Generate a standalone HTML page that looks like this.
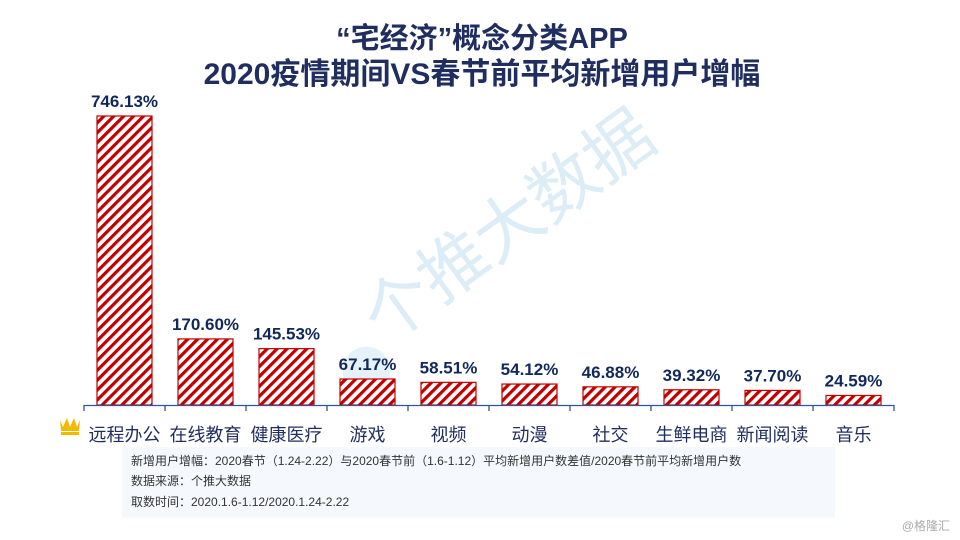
<!DOCTYPE html>
<html><head><meta charset="utf-8">
<style>
body{margin:0;width:960px;height:540px;background:#fff;overflow:hidden;font-family:"Liberation Sans","Noto Sans CJK SC",sans-serif}
svg{display:block}
</style></head>
<body>
<svg id="chart" width="960" height="540">
<defs>
<pattern id="hatch" patternUnits="userSpaceOnUse" width="7" height="7" patternTransform="rotate(45)">
<rect width="7" height="7" fill="#fff"/>
<rect width="3.2" height="7" fill="#c00000"/>
</pattern>
</defs>
<g transform="translate(385,345) rotate(-36)">
<circle cx="-30" cy="10" r="24" fill="#e6f2fa"/>
<text x="0" y="0" font-size="68" fill="#dcedf8" font-family="'Noto Sans CJK SC',sans-serif">个推大数据</text>
</g>
<text x="482" y="48" text-anchor="middle" font-size="29" font-weight="bold" fill="#1f2d5f" font-family="'Liberation Sans','Noto Sans CJK SC',sans-serif">“宅经济”概念分类APP</text>
<text x="482" y="84" text-anchor="middle" font-size="30" font-weight="bold" fill="#1f2d5f" font-family="'Liberation Sans','Noto Sans CJK SC',sans-serif">2020疫情期间VS春节前平均新增用户增幅</text>
<g id="bars"></g>
<line x1="84" y1="405.5" x2="894" y2="405.5" stroke="#2f5597" stroke-width="1.3"/>
<g id="ticks"></g>
<g fill="#f5b800">
<path d="M60 420 L63 427 L67 418 L70 427 L74 418 L77 427 L80 420 L79 431 L61 431 Z"/>
<rect x="61" y="432" width="18" height="3"/>
</g>
<rect x="122" y="447" width="713" height="71" fill="#f5f9fd"/>
<text x="131" y="465" font-size="12" fill="#333">新增用户增幅：2020春节（1.24-2.22）与2020春节前（1.6-1.12）平均新增用户数差值/2020春节前平均新增用户数</text>
<text x="131" y="485" font-size="12" fill="#333">数据来源：个推大数据</text>
<text x="131" y="506" font-size="12" fill="#333">取数时间：2020.1.6-1.12/2020.1.24-2.22</text>
<text x="950" y="530" text-anchor="end" font-size="12" fill="#aaa">@格隆汇</text>
</svg>
<script>
const categories=["远程办公","在线教育","健康医疗","游戏","视频","动漫","社交","生鲜电商","新闻阅读","音乐"];
const values=[746.13,170.60,145.53,67.17,58.51,54.12,46.88,39.32,37.70,24.59];
const labels=["746.13%","170.60%","145.53%","67.17%","58.51%","54.12%","46.88%","39.32%","37.70%","24.59%"];
const NS="http://www.w3.org/2000/svg";
const x0=84,x1=894,baseY=405,topY=116,maxV=746.13;
const slot=(x1-x0)/categories.length;
function xScale(i){return x0+slot*i;}
function yScale(v){return baseY-(v/maxV)*(baseY-topY);}
const bars=document.getElementById('bars'),ticks=document.getElementById('ticks');
function mk(t,a){const e=document.createElementNS(NS,t);for(const k in a)e.setAttribute(k,a[k]);return e;}
for(let i=0;i<=categories.length;i++){
  const t=mk('line',{x1:xScale(i),x2:xScale(i),y1:405,y2:411,stroke:'#2f5597','stroke-width':1.3});
  
  
  ticks.appendChild(t);
}
categories.forEach((c,i)=>{
  const bw=55,bx=xScale(i)+(slot-bw)/2,by=yScale(values[i]);
  const r=mk('rect',{x:bx,y:by,width:bw,height:baseY-by,fill:'url(#hatch)',stroke:'#c00000','stroke-width':1.2});
  
  
  bars.appendChild(r);
  const l=mk('text',{x:xScale(i)+slot/2,y:by-9,'text-anchor':'middle','font-size':17,'font-weight':'bold',fill:'#10295a'});
  l.textContent=labels[i];
  
  
  bars.appendChild(l);
  const cl=mk('text',{x:xScale(i)+slot/2,y:441,'text-anchor':'middle','font-size':18,fill:'#1f2d5f'});
  cl.textContent=c;
  
  
  bars.appendChild(cl);
});
</script>
</body></html>
